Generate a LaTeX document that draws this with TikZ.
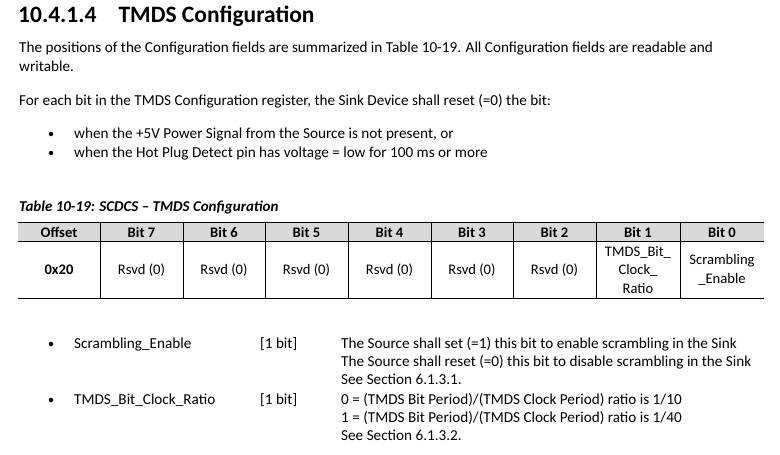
\documentclass[tikz,border=0pt]{standalone}
\usepackage{fontspec}
\setmainfont{Carlito}
\begin{document}
\begin{tikzpicture}[x=1pt,y=-1pt,
  t/.style={anchor=base west,inner sep=0pt,font=\fontsize{15.2}{17}\selectfont},
  c/.style={anchor=center,inner sep=0pt,font=\fontsize{14.6}{18.5}\selectfont,align=center},
  hd/.style={c,font=\fontsize{14.6}{17}\selectfont\bfseries},
  bul/.style={circle,fill=black,inner sep=0pt,minimum size=4.5pt}]
\useasboundingbox (0,0) rectangle (780,455);
\node[anchor=base west,inner sep=0pt,font=\fontsize{23.5}{26}\selectfont\bfseries] (h) at (18,22) {10.4.1.4\hspace{22pt}TMDS Configuration};
\node[t] (p1) at (19,52) {The positions of the Configuration fields are summarized in Table 10-19. All Configuration fields are readable and};
\node[t] (p2) at (19,71) {writable.};
\node[t] (p3) at (19,105) {For each bit in the TMDS Configuration register, the Sink Device shall reset (=0) the bit:};
\node[bul] (b1) at (51,134) {};
\node[t] (l1) at (74,138) {when the +5V Power Signal from the Source is not present, or};
\node[bul] (b2) at (51,153) {};
\node[t] (l2) at (74,157) {when the Hot Plug Detect pin has voltage = low for 100 ms or more};
\node[t,font=\fontsize{15}{17}\selectfont\bfseries\itshape] (cap) at (19,211) {Table 10-19: SCDCS -- TMDS Configuration};
% table
\fill[black!15] (18,222) rectangle (764,241);
\draw[line width=0.8pt] (18,222) -- (764,222) (18,241) -- (764,241) (18,298) -- (764,298);
\foreach \x in {100,183,265,348,431,513,596,680}
  \draw[line width=0.6pt] (\x,222) -- (\x,298);
\node[hd] (o) at (59,232) {Offset};
\node[hd] (h7) at (141.5,232) {Bit 7};
\node[hd] (h6) at (224,232) {Bit 6};
\node[hd] (h5) at (306.5,232) {Bit 5};
\node[hd] (h4) at (389.5,232) {Bit 4};
\node[hd] (h3) at (472,232) {Bit 3};
\node[hd] (h2) at (554.5,232) {Bit 2};
\node[hd] (h1) at (638,232) {Bit 1};
\node[hd] (h0) at (722,232) {Bit 0};
\node[hd] (v) at (59,270) {0x20};
\node[c] (r7) at (141.5,270) {Rsvd (0)};
\node[c] (r6) at (224,270) {Rsvd (0)};
\node[c] (r5) at (306.5,270) {Rsvd (0)};
\node[c] (r4) at (389.5,270) {Rsvd (0)};
\node[c] (r3) at (472,270) {Rsvd (0)};
\node[c] (r2) at (554.5,270) {Rsvd (0)};
\node[c] (r1) at (638,270) {TMDS\_Bit\_\\Clock\_\\Ratio};
\node[c] (r0) at (722,270) {Scrambling\\\_Enable};
% lower list
\node[bul] (b3) at (51,344) {};
\node[t] (f1) at (74,348) {Scrambling\_Enable};
\node[t] (s1) at (260,348) {[1 bit]};
\node[t] (d1) at (341,348) {The Source shall set (=1) this bit to enable scrambling in the Sink};
\node[t] (d2) at (341,366) {The Source shall reset (=0) this bit to disable scrambling in the Sink};
\node[t] (d3) at (341,384) {See Section 6.1.3.1.};
\node[bul] (b4) at (51,400) {};
\node[t] (f2) at (74,404) {TMDS\_Bit\_Clock\_Ratio};
\node[t] (s2) at (260,404) {[1 bit]};
\node[t] (d4) at (341,404) {0 = (TMDS Bit Period)/(TMDS Clock Period) ratio is 1/10};
\node[t] (d5) at (341,422) {1 = (TMDS Bit Period)/(TMDS Clock Period) ratio is 1/40};
\node[t] (d6) at (341,440) {See Section 6.1.3.2.};
\end{tikzpicture}
\end{document}
